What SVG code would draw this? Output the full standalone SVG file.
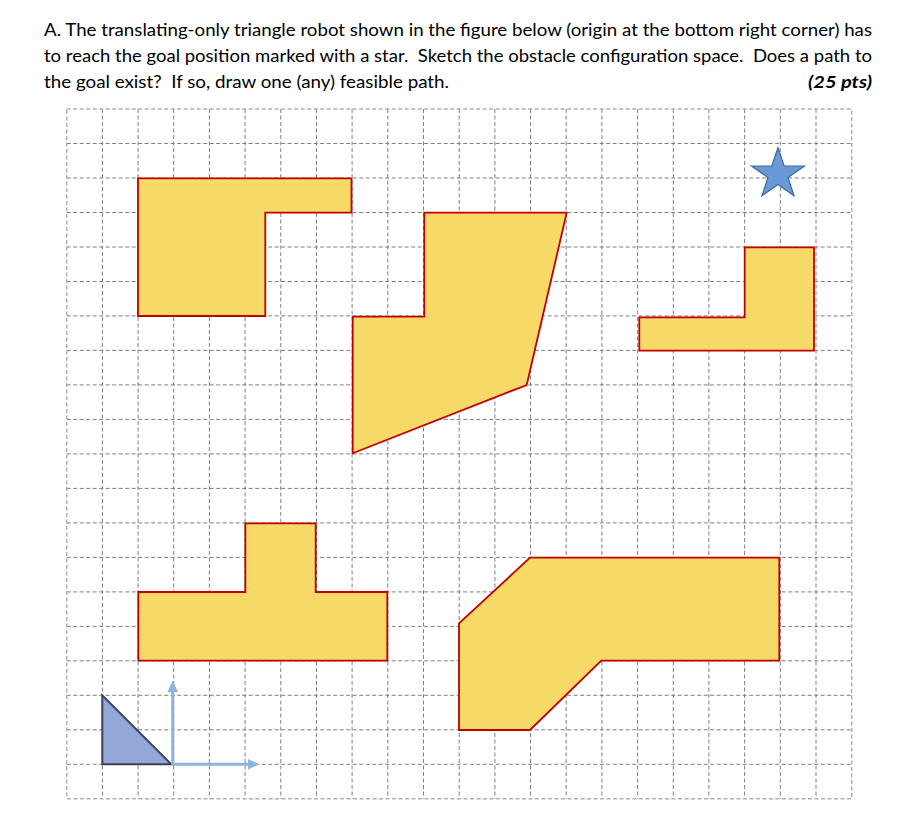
<svg xmlns="http://www.w3.org/2000/svg" width="907" height="835" viewBox="0 0 907 835">
<style>
.t{font-family:Lato,"Liberation Sans",sans-serif;font-size:17px;fill:#000;white-space:pre}
.b{font-weight:bold;font-style:italic}
.grid{fill:none;stroke:#7f7f7f;stroke-width:1;stroke-dasharray:4 2.5}
.border{fill:none;stroke:#b0b0b0;stroke-width:1.5;stroke-dasharray:4 2.5}
.obs{fill:#f7d967;stroke:#c00000;stroke-width:1.8;stroke-linejoin:miter}
.ax{stroke:#8db3e2;stroke-width:3;fill:none}
.axh{fill:#8db3e2}
</style>
<rect width="907" height="835" fill="#fff"/>
<g id="question">
<text class="t" x="44" y="36" textLength="828" lengthAdjust="spacingAndGlyphs">A. The translating-only triangle robot shown in the figure below (origin at the bottom right corner) has</text>
<text class="t" x="44" y="62" textLength="828" lengthAdjust="spacingAndGlyphs">to reach the goal position marked with a star.  Sketch the obstacle configuration space.  Does a path to</text>
<text class="t" x="44" y="88" textLength="405" lengthAdjust="spacingAndGlyphs">the goal exist?  If so, draw one (any) feasible path.</text>
<text class="t b" x="808" y="88" textLength="64" lengthAdjust="spacingAndGlyphs">(25 pts)</text>
</g>
<g id="grid">
<path class="grid" d="M102.4 109V798.8M138.1 109V798.8M173.7 109V798.8M209.4 109V798.8M245.1 109V798.8M280.8 109V798.8M316.5 109V798.8M352.1 109V798.8M387.8 109V798.8M423.5 109V798.8M459.2 109V798.8M494.9 109V798.8M530.5 109V798.8M566.2 109V798.8M601.9 109V798.8M637.6 109V798.8M673.3 109V798.8M708.9 109V798.8M744.6 109V798.8M780.3 109V798.8M816.0 109V798.8"/>
<path class="grid" d="M66.7 143.5H851.7M66.7 178H851.7M66.7 212.5H851.7M66.7 247H851.7M66.7 281.5H851.7M66.7 315.9H851.7M66.7 350.4H851.7M66.7 384.9H851.7M66.7 419.4H851.7M66.7 453.9H851.7M66.7 488.4H851.7M66.7 522.9H851.7M66.7 557.4H851.7M66.7 591.9H851.7M66.7 626.4H851.7M66.7 660.8H851.7M66.7 695.3H851.7M66.7 729.8H851.7M66.7 764.3H851.7"/>
<rect class="border" x="66.7" y="109" width="785" height="689.8"/>
</g>
<g id="obstacle1"><polygon class="obs" points="138,178.3 351.5,178.3 351.5,212.7 265.3,212.7 265.3,316 138,316"/></g>
<g id="obstacle2"><polygon class="obs" points="424.3,212.7 566.7,212.7 526.7,385 352.7,453.3 352.7,316.7 424.3,316.7"/></g>
<g id="obstacle3"><polygon class="obs" points="744.7,247.3 814,247.3 814,350.7 639.3,350.7 639.3,317.3 744.7,317.3"/></g>
<g id="obstacle4"><polygon class="obs" points="245.3,523.3 315.7,523.3 315.7,592 387.3,592 387.3,660.7 138.3,660.7 138.3,592 245.3,592"/></g>
<g id="obstacle5"><polygon class="obs" points="530,557.7 779.3,557.7 779.3,660.7 601.3,660.7 530,730 459,730 459,623.3"/></g>
<g id="goal"><polygon points="778,147.7 784.2,166 804.5,166 788,177.5 794,195.7 778,184.5 762,195.7 768,177.5 751.5,166 771.8,166" fill="#6a9ad6" stroke="#41679e" stroke-width="1.2" stroke-linejoin="miter"/></g>
<g id="robot"><polygon points="102.3,695.3 102.3,764.3 171.3,764.3" fill="#94a8da" stroke="#3b4257" stroke-width="2"/></g>
<g id="connectors">
<line class="ax" x1="172.7" y1="764.3" x2="172.7" y2="691"/>
<polygon class="axh" points="172.7,680.7 178,692 167.4,692"/>
<line class="ax" x1="171.5" y1="764.3" x2="249" y2="764.3"/>
<polygon class="axh" points="259.3,764.3 248,759 248,769.6"/>
</g>
</svg>
